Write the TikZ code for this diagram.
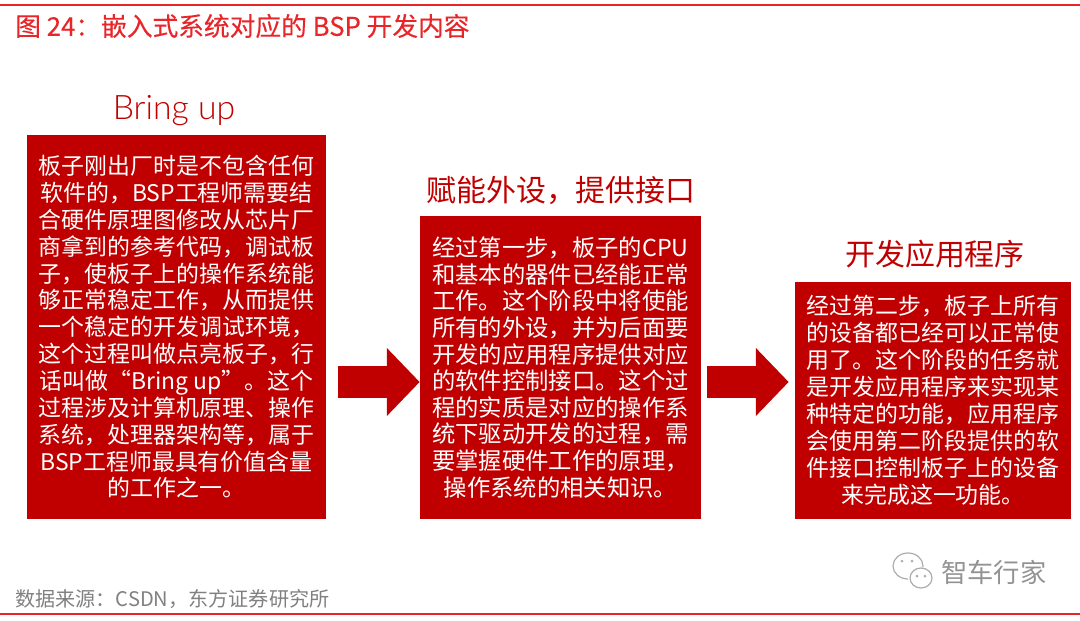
\documentclass[tikz,border=0pt]{standalone}
\usepackage{fontspec}
\setmainfont{Noto Sans CJK SC}
\newfontfamily\headfont[FakeBold=0.25]{Noto Sans CJK SC}
\newfontfamily\thinfont{Lato Light}
\usetikzlibrary{arrows.meta, positioning, calc}
\definecolor{boxred}{HTML}{C00000}
\definecolor{rulered}{HTML}{E8262A}
\tikzset{
  redbox/.style 2 args={fill=boxred, text=white, align=center, inner sep=0pt, font=\fontsize{#1}{#2}\selectfont},
  boxtitle/.style={text=boxred, inner sep=0pt, font=\fontsize{21.3}{25}\selectfont},
  blockarrow/.style={boxred, line width=0.8cm, -{Triangle[width=1.65cm,length=0.82cm]}},
  rulerline/.style={rulered, line width=0.07cm},
  wmark/.style={gray!65, line width=0.03cm}
}
\begin{document}
\begin{tikzpicture}[x=0.025cm,y=-0.025cm]
    \useasboundingbox (0,0) rectangle (1080,620);
    % 上下两条红线
    \coordinate (topL) at (0,5);
    \coordinate (topR) at (1080,5);
    \coordinate (botL) at (0,614);
    \coordinate (botR) at (1080,614);
    \draw[rulerline] (topL) -- (topR);
    \draw[rulerline] (botL) -- (botR);
    % 标题和来源
    \node[anchor=west, inner sep=0pt, text=rulered, font=\headfont\fontsize{18.3}{21}\selectfont] (figtitle) at (15,26) {图 24：嵌入式系统对应的 BSP 开发内容};
    \node[anchor=west, inner sep=0pt, text=gray, font=\fontsize{14.3}{17}\selectfont] (source) at (15,599) {数据来源：CSDN，东方证券研究所};
    % 三个红框
    \node[redbox={16.3}{19.1}, minimum width=7.475cm, minimum height=9.6cm] (boxa) at (176.5,327) {板子刚出厂时是不包含任何\\软件的，BSP工程师需要结\\合硬件原理图修改从芯片厂\\商拿到的参考代码，调试板\\子，使板子上的操作系统能\\够正常稳定工作，从而提供\\一个稳定的开发调试环境，\\这个过程叫做点亮板子，行\\话叫做“Bring up”。这个\\过程涉及计算机原理、操作\\系统，处理器架构等，属于\\BSP工程师最具有价值含量\\的工作之一。};
    \node[redbox={16.6}{18.9}, minimum width=7.025cm, minimum height=7.575cm] (boxb) at (560.5,367.5) {经过第一步，板子的CPU\\和基本的器件已经能正常\\工作。这个阶段中将使能\\所有的外设，并为后面要\\开发的应用程序提供对应\\的软件控制接口。这个过\\程的实质是对应的操作系\\统下驱动开发的过程，需\\要掌握硬件工作的原理，\\操作系统的相关知识。};
    \node[redbox={16.3}{19.2}, minimum width=6.9cm, minimum height=5.925cm] (boxc) at (933,400.5) {经过第二步，板子上所有\\的设备都已经可以正常使\\用了。这个阶段的任务就\\是开发应用程序来实现某\\种特定的功能，应用程序\\会使用第二阶段提供的软\\件接口控制板子上的设备\\来完成这一功能。};
    % 框上的小标题
    \node[boxtitle, font=\thinfont\fontsize{24}{28}\selectfont] (titlea) at (174,111) {Bring up};
    \node[boxtitle] (titleb) at (561,190) {赋能外设，提供接口};
    \node[boxtitle] (titlec) at (935,254) {开发应用程序};
    % 框之间的箭头
    \coordinate (mid) at (0,382);
    \draw[blockarrow, shorten <=0.3cm] (boxa.east |- mid) -- (boxb.west |- mid);
    \draw[blockarrow, shorten <=0.15cm, shorten >=0.15cm] (boxb.east |- mid) -- (boxc.west |- mid);
    % 水印
    \draw[wmark] (908,566) ellipse (15 and 13);
    \fill[white] (921,578) ellipse (13 and 11);
    \draw[wmark] (921,578) ellipse (11 and 10);
    \foreach \dx/\dy in {902/561, 912/561, 917/576, 925/576}
      \fill[gray!65] (\dx,\dy) circle (1.5);
    \node[anchor=west, inner sep=0pt, text=gray!85, font=\fontsize{18.7}{22}\selectfont] (wmtext) at (941,572) {智车行家};
\end{tikzpicture}
\end{document}
